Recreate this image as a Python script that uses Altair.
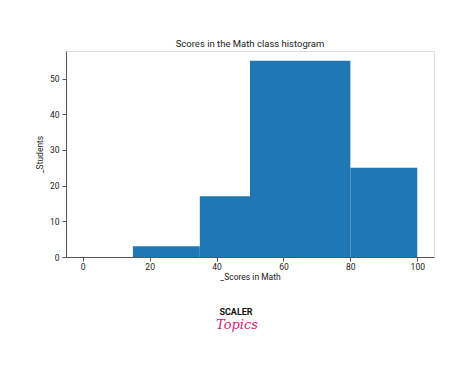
import altair as alt
import pandas as pd

bin_start = [0, 15, 35, 50, 80]
bin_end = [15, 35, 50, 80, 100]
counts = [0, 3, 17, 55, 25]
x_ticks = [0, 20, 40, 60, 80, 100]
y_ticks = [0, 10, 20, 30, 40, 50]

df = pd.DataFrame({"start": bin_start, "end": bin_end, "count": counts})

W, H = 368, 206
FONT = "Roboto"
AX = dict(labelFont=FONT, titleFont=FONT, labelFontSize=8.5, titleFontSize=8.5,
          labelColor="#222222", titleColor="#222222", titleFontWeight="normal",
          domainColor="#555555", tickColor="#555555", grid=False, tickSize=4)

bars = alt.Chart(df).mark_rect(color="#1f77b4").encode(
    x=alt.X("start:Q", scale=alt.Scale(domain=[-5, 105], nice=False, zero=False),
            axis=alt.Axis(values=x_ticks, title="_Scores in Math",
                          labelPadding=1, titlePadding=2, **AX)),
    x2="end:Q",
    y=alt.Y("count:Q", scale=alt.Scale(domain=[0, 57.75], nice=False),
            axis=alt.Axis(values=y_ticks, title="_Students",
                          labelPadding=3, titlePadding=5, **AX)),
    y2=alt.datum(0),
)

logo1 = alt.Chart(pd.DataFrame({"t": ["SCALER"]})).mark_text(
    font=FONT, fontWeight="bold", fontSize=9, color="#111111", align="center", baseline="middle"
).encode(text="t:N", x=alt.value(170), y=alt.value(261))

logo2 = alt.Chart(pd.DataFrame({"t": ["Topics"]})).mark_text(
    font="DejaVu Serif", fontStyle="italic", fontSize=13, color="#d81b73", align="center", baseline="middle"
).encode(text="t:N", x=alt.value(171), y=alt.value(274))

chart = alt.layer(bars, logo1, logo2).properties(
    width=W, height=H,
    title=alt.Title("Scores in the Math class histogram", font=FONT, fontSize=9.5,
                    fontWeight="normal", color="#222222", offset=3),
    autosize=alt.AutoSizeParams(type="none"),
    padding={"left": 58, "top": 43, "right": 32, "bottom": 105},
).configure_view(stroke="#555555", strokeWidth=1).configure(background="white")

chart.save("out.html", embed_options={"renderer": "svg", "actions": False})
